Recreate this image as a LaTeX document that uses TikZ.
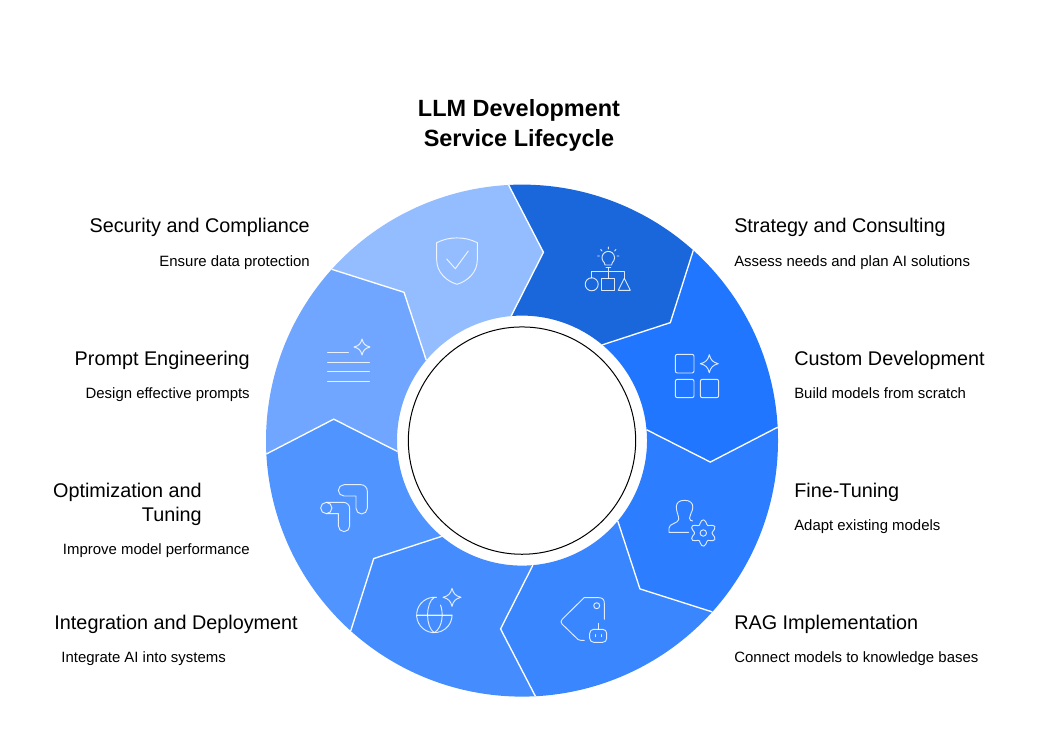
\documentclass[tikz,border=0pt]{standalone}
\usepackage{fontspec}
\setmainfont{Liberation Sans}
\definecolor{seg1}{HTML}{1967DB}
\definecolor{seg2}{HTML}{2176FF}
\definecolor{seg3}{HTML}{2C7DFF}
\definecolor{seg4}{HTML}{3A86FF}
\definecolor{seg5}{HTML}{458DFF}
\definecolor{seg6}{HTML}{5094FF}
\definecolor{seg7}{HTML}{70A6FF}
\definecolor{seg8}{HTML}{94BDFF}
\tikzset{
    sep/.style={white, line width=1pt, line join=miter},
    icon/.style={draw=white, draw opacity=0.85, line width=0.7pt, line join=round, line cap=round},
    head/.style={inner sep=0pt, font=\fontsize{14.85}{18}\selectfont},
    desc/.style={inner sep=0pt, font=\fontsize{11.2}{13}\selectfont},
    sparkle/.pic={\draw[icon] (0,-1) .. controls (.15,-.4) and (.4,-.15) .. (1,0)
        .. controls (.4,.15) and (.15,.4) .. (0,1)
        .. controls (-.15,.4) and (-.4,.15) .. (-1,0)
        .. controls (-.4,-.15) and (-.15,-.4) .. (0,-1) -- cycle;}
}
\begin{document}
\begin{tikzpicture}[x=0.75pt, y=-0.75pt]
    \useasboundingbox (0,0) rectangle (1044,752);

    % Ring: outer end, bend and inner end of each border
    \begin{scope}[shift={(522,440.6)}]
        \coordinate (o1) at (-93:256);  \coordinate (t1) at (-83.5:189.5);  \coordinate (i1) at (-95:125);
        \coordinate (o2) at (-48:256);  \coordinate (t2) at (-38.5:189.5);  \coordinate (i2) at (-50:125);
        \coordinate (o3) at (-3:256);   \coordinate (t3) at (6.5:189.5);    \coordinate (i3) at (-5:125);
        \coordinate (o4) at (42:256);   \coordinate (t4) at (51.5:189.5);   \coordinate (i4) at (40:125);
        \coordinate (o5) at (87:256);   \coordinate (t5) at (96.5:189.5);   \coordinate (i5) at (85:125);
        \coordinate (o6) at (132:256);  \coordinate (t6) at (141.5:189.5);  \coordinate (i6) at (130:125);
        \coordinate (o7) at (177:256);  \coordinate (t7) at (186.5:189.5);  \coordinate (i7) at (175:125);
        \coordinate (o8) at (222:256);  \coordinate (t8) at (231.5:189.5);  \coordinate (i8) at (220:125);

        % Segments
        \fill[seg1] (o1) arc[start angle=-93, end angle=-48, radius=256] -- (t2) -- (i2) arc[start angle=-50, end angle=-95, radius=125] -- (t1) -- cycle;
        \fill[seg2] (o2) arc[start angle=-48, end angle=-3, radius=256] -- (t3) -- (i3) arc[start angle=-5, end angle=-50, radius=125] -- (t2) -- cycle;
        \fill[seg3] (o3) arc[start angle=-3, end angle=42, radius=256] -- (t4) -- (i4) arc[start angle=40, end angle=-5, radius=125] -- (t3) -- cycle;
        \fill[seg4] (o4) arc[start angle=42, end angle=87, radius=256] -- (t5) -- (i5) arc[start angle=85, end angle=40, radius=125] -- (t4) -- cycle;
        \fill[seg5] (o5) arc[start angle=87, end angle=132, radius=256] -- (t6) -- (i6) arc[start angle=130, end angle=85, radius=125] -- (t5) -- cycle;
        \fill[seg6] (o6) arc[start angle=132, end angle=177, radius=256] -- (t7) -- (i7) arc[start angle=175, end angle=130, radius=125] -- (t6) -- cycle;
        \fill[seg7] (o7) arc[start angle=177, end angle=222, radius=256] -- (t8) -- (i8) arc[start angle=220, end angle=175, radius=125] -- (t7) -- cycle;
        \fill[seg8] (o8) arc[start angle=222, end angle=267, radius=256] -- (t1) -- (i1) arc[start angle=265, end angle=220, radius=125] -- (t8) -- cycle;

        % Borders
        \draw[sep] (o1) -- (t1) -- (i1);
        \draw[sep] (o2) -- (t2) -- (i2);
        \draw[sep] (o3) -- (t3) -- (i3);
        \draw[sep] (o4) -- (t4) -- (i4);
        \draw[sep] (o5) -- (t5) -- (i5);
        \draw[sep] (o6) -- (t6) -- (i6);
        \draw[sep] (o7) -- (t7) -- (i7);
        \draw[sep] (o8) -- (t8) -- (i8);
    \end{scope}

    % Hub
    \node[circle, draw=black, line width=0.75pt, inner sep=0pt, minimum size=170.5pt] (hub) at (522,440.6) {};

    % Strategy icon
    \draw[icon] (605,265) .. controls (605,263) and (603.8,262) .. (602.85,260.85)
        arc[start angle=150, end angle=390, radius=6.3]
        .. controls (612.8,262) and (611.6,263) .. (611.6,265) -- cycle;
    \draw[icon] (606,267.3) -- (610.7,267.3);
    \draw[icon] (608.3,247) -- (608.3,249) (600.7,249.5) -- (602,251) (615.9,249.5) -- (614.6,251)
        (597.7,256) -- (599.5,256) (617,256) -- (618.8,256);
    \draw[icon] (608.3,267.3) -- (608.3,278.3) (591.7,278) -- (591.7,271.7) -- (624.3,271.7) -- (624.3,278.3);
    \draw[icon] (591.7,284.3) circle[radius=6.5];
    \draw[icon] (601.7,278.3) rectangle (614.3,290.3);
    \draw[icon] (624.3,278.3) -- (630.3,290.3) -- (618.3,290.3) -- cycle;

    % Custom development icon
    \draw[icon, rounded corners=1.5pt] (675.3,354.3) rectangle (694,373);
    \draw[icon, rounded corners=1.5pt] (675.3,379.3) rectangle (694,397.7);
    \draw[icon, rounded corners=1.5pt] (700.3,379.3) rectangle (718.7,397.7);
    \pic[scale=9] at (709.3,363.7) {sparkle};

    % Fine-tuning icon
    \draw[icon] (688.7,532.3) -- (669,532.3) -- (669,528) .. controls (669,523.5) and (678,523.5) .. (678.7,519.5)
        .. controls (679,516) and (676.3,512) .. (676.3,507) .. controls (676.3,503) and (679,500.3) .. (684.5,500.3)
        .. controls (690,500.3) and (692.8,503) .. (692.8,507) .. controls (692.8,512) and (689.5,514) .. (689.5,518)
        .. controls (689.5,520) and (691,521) .. (692.7,521);
    \draw[icon] plot[smooth cycle, samples=37, domain=0:350] ({703.3+(10.9-2.3*cos(6*\x))*cos(\x)}, {533+(10.9-2.3*cos(6*\x))*sin(\x)});
    \draw[icon] (703.3,533) circle[radius=3.2];

    % RAG icon
    \draw[icon] (604.3,619.3) -- (604.3,603) .. controls (604.3,599.5) and (602.5,597.7) .. (599,597.7) -- (584,597.7)
        -- (562,619.5) .. controls (560.7,621) and (560.7,622.5) .. (562,624) -- (578,639.5) .. controls (579.5,640.5) and (581,640.3) .. (584.3,640.3);
    \draw[icon] (596.7,605.7) circle[radius=3];
    \draw[icon, rounded corners=3pt] (589.7,629.3) rectangle (606.7,642.3);
    \draw[icon] (598,623.3) -- (598,629.3) (595.3,634.7) -- (595.3,636.7) (601,634.7) -- (601,636.7);

    % Integration icon
    \draw[icon] (436.5,597.4) arc[start angle=-83, end angle=-360, radius=17.7] -- (416.6,615);
    \draw[icon] (416.6,615) -- (452,615);
    \draw[icon] (434.3,597.3) .. controls (425.3,603) and (425.3,627) .. (434.3,632.7)
        .. controls (443.3,627) and (443.3,612) .. (440.5,605);
    \pic[scale=9] at (452,597.3) {sparkle};

    % Optimization icon
    \draw[icon] (344,484.7) -- (361,484.7) arc[start angle=-90, end angle=0, radius=6.3] -- (367.3,508.3)
        arc[start angle=0, end angle=180, radius=5.65] -- (356,496) -- (344,496)
        arc[start angle=90, end angle=270, radius=5.65] -- cycle;
    \draw[icon] (326.3,502.3) -- (343.4,502.3) arc[start angle=-90, end angle=0, radius=6.3] -- (349.7,526)
        arc[start angle=0, end angle=180, radius=5.65] -- (338.4,513.6) -- (326.3,513.6);
    \draw[icon] (326.3,508) circle[radius=5.65];

    % Prompt engineering icon
    \draw[icon] (327.7,352.3) -- (348.3,352.3) (327.7,362) -- (369.3,362) (327.7,371.7) -- (369.3,371.7) (327.7,381.3) -- (369.3,381.3);
    \pic[scale=8] at (362,347) {sparkle};

    % Security icon
    \draw[icon] (436.7,242.7) .. controls (449,236.3) and (465,236.3) .. (477.3,242.7) -- (477.3,260)
        .. controls (477.3,272) and (468,281) .. (457,284.3) .. controls (446,281) and (436.7,272) .. (436.7,260) -- cycle;
    \draw[icon] (446.7,259) -- (455.3,268.7) -- (468.3,251);

    % Title
    \node[inner sep=0pt, align=center, font=\fontsize{17.6}{22.5}\selectfont\bfseries] (title) at (519,125) {LLM Development\\Service Lifecycle};

    % Right labels
    \node[head, anchor=base west] (strategy) at (734,233) {Strategy and Consulting};
    \node[desc, anchor=base west] (strategydesc) at (734,266.8) {Assess needs and plan AI solutions};
    \node[head, anchor=base west] (custom) at (794,365) {Custom Development};
    \node[desc, anchor=base west] (customdesc) at (794,398.8) {Build models from scratch};
    \node[head, anchor=base west] (fine) at (794,497) {Fine-Tuning};
    \node[desc, anchor=base west] (finedesc) at (794,530.8) {Adapt existing models};
    \node[head, anchor=base west] (rag) at (734,629) {RAG Implementation};
    \node[desc, anchor=base west] (ragdesc) at (734,662.8) {Connect models to knowledge bases};

    % Left labels
    \node[head, anchor=base east] (security) at (310,233) {Security and Compliance};
    \node[desc, anchor=base east] (securitydesc) at (310,266.8) {Ensure data protection};
    \node[head, anchor=base east] (prompt) at (250,365) {Prompt Engineering};
    \node[desc, anchor=base east] (promptdesc) at (250,398.8) {Design effective prompts};
    \node[head, anchor=base east] (optim) at (202,497) {Optimization and};
    \node[head, anchor=base east] (optimb) at (202,521) {Tuning};
    \node[desc, anchor=base east] (optimdesc) at (250,554.8) {Improve model performance};
    \node[head, anchor=base east] (integ) at (298,629) {Integration and Deployment};
    \node[desc, anchor=base east] (integdesc) at (226,662.8) {Integrate AI into systems};
\end{tikzpicture}
\end{document}
